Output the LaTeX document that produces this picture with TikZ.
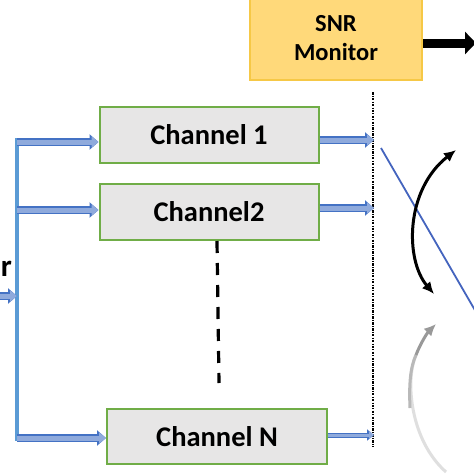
\documentclass[tikz,border=0pt]{standalone}
\usepackage{fontspec}
\setmainfont{Carlito}
\usetikzlibrary{arrows.meta}
\definecolor{chfill}{RGB}{231,230,230}
\definecolor{chdraw}{RGB}{112,173,71}
\definecolor{snrfill}{RGB}{255,217,122}
\definecolor{snrdraw}{RGB}{246,200,70}
\definecolor{trunk}{RGB}{91,155,213}
\definecolor{afill}{RGB}{143,170,220}
\definecolor{adraw}{RGB}{68,114,196}
\definecolor{diag}{RGB}{68,100,190}
\tikzset{
  x=1pt, y=-1pt,
  chbox/.style={draw=chdraw, fill=chfill, line width=2pt, minimum width=219pt, minimum height=56pt, inner sep=0pt, font=\bfseries\fontsize{28.5}{30}\selectfont},
  snrbox/.style={draw=snrdraw, fill=snrfill, line width=2pt, minimum width=172pt, minimum height=83pt, inner sep=0pt, align=center, font=\bfseries\fontsize{24.5}{29}\selectfont},
  blockarrow/.style={preaction={draw=adraw, line width=7.5pt, -{Triangle[length=9pt,width=15pt]}}, draw=afill, line width=5pt, -{Triangle[length=7pt,width=11pt]}},
  thinblock/.style={preaction={draw=adraw, line width=5pt, -{Triangle[length=7pt,width=11pt]}}, draw=afill, line width=3pt, -{Triangle[length=5pt,width=8pt]}},
  trunkline/.style={draw=trunk, line width=4.5pt},
  sep/.style={draw=black, line width=1.8pt, dash pattern=on 2.5pt off 1.2pt on 1pt off 1.2pt},
  midgap/.style={draw=black, line width=3.2pt, dash pattern=on 12pt off 10pt},
  swing/.style={draw=black, line width=3pt, {Latex[length=12pt,width=11pt]}-{Latex[length=12pt,width=11pt]}},
}
\begin{document}
\begin{tikzpicture}
\useasboundingbox (0,0) rectangle (474,474);
\fill[white] (0,0) rectangle (474,474);
% boxes
\node[snrbox] (snr) at (336,38.5) {SNR\\Monitor};
\node[chbox] (ch1) at (209,135) {Channel 1};
\node[chbox] (ch2) at (209,211.5) {Channel2};
\node[chbox, minimum width=220pt, minimum height=55pt] (chn) at (217,436.5) {Channel N};
% left label fragment
\node[anchor=base east, inner sep=0pt, font=\bfseries\fontsize{31}{32}\selectfont] (rlab) at (12,276) {r};
% trunk
\coordinate (ttop) at (17,138);
\coordinate (tbot) at (17,441);
\coordinate (tin) at (17,296);
\coordinate (inp) at (-12,296);
\draw[trunkline] (ttop) -- (tbot);
\draw[blockarrow] (inp) -- (tin);
\draw[blockarrow] (17,142) -- (ch1.west |- 0,142);
\draw[blockarrow] (17,210) -- (ch2.west |- 0,210);
\draw[blockarrow] (17,438) -- (chn.west |- 0,438);
% separator line
\coordinate (septop) at (373,92);
\coordinate (sepbot) at (373,447);
\draw[sep] (septop) -- (sepbot);
% outputs
\draw[blockarrow] (ch1.east |- 0,140) -- (374,140);
\draw[blockarrow] (ch2.east |- 0,208) -- (374,208);
\draw[thinblock] (chn.east |- 0,435) -- (374,435);
% middle dashed
\coordinate (mdtop) at (217,241);
\coordinate (mdbot) at (219,383);
\draw[midgap] (mdtop) -- (mdbot);
% SNR output
\coordinate (snrout) at (476,43);
\draw[line width=9pt, -{Triangle[length=11pt,width=22pt]}] (snr.east |- 0,43) -- (snrout);
% diagonal
\coordinate (dg1) at (381,148);
\coordinate (dg2) at (476,312);
\draw[diag, line width=1.8pt] (dg1) -- (dg2);
% swing arrow
\coordinate (sw1) at (434,294);
\coordinate (sw2) at (456,150);
\draw[swing] (sw1) .. controls (405,260) and (405,190) .. (sw2);
% faded arrow
\coordinate (fa1) at (446,472);
\coordinate (fa2) at (436,324);
\begin{scope}
\draw[gray!25, line width=3pt] (fa1) .. controls (410,440) and (405,380) .. (416,355);
\draw[gray!55, line width=3pt] (410,408) .. controls (409,385) and (410,368) .. (416,355);
\draw[gray!80, line width=3pt, -{Latex[length=12pt,width=11pt]}] (416,355) .. controls (421,342) and (428,332) .. (fa2);
\end{scope}
\end{tikzpicture}
\end{document}
